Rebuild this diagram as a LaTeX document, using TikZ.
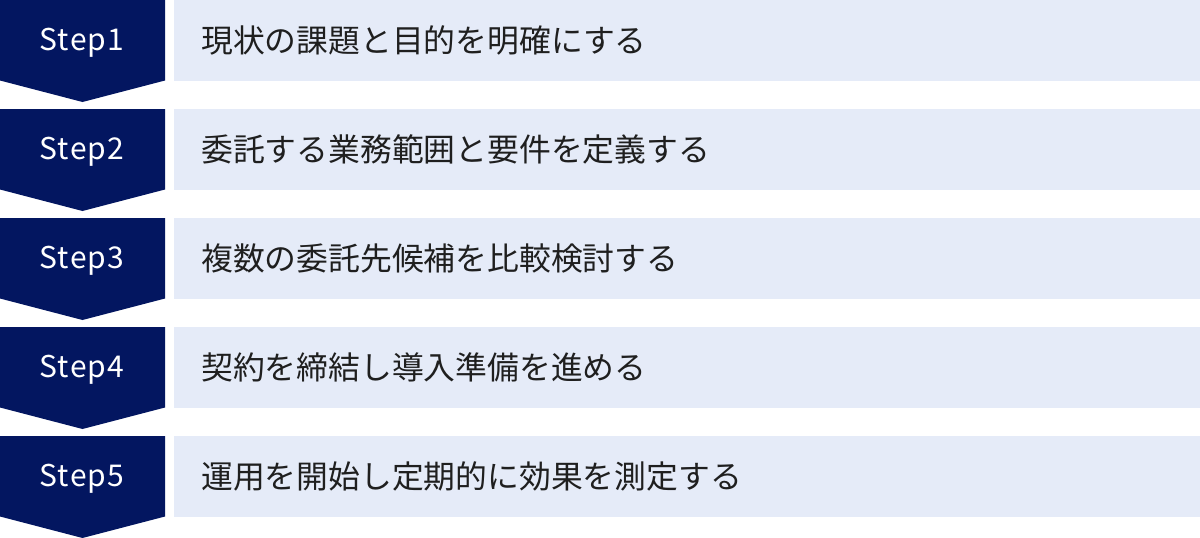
\documentclass[tikz,border=0pt]{standalone}
\usepackage{fontspec}
\setmainfont{Noto Sans}
\newfontfamily\jpfont{Noto Sans CJK JP}
\newfontfamily\stepfont[LetterSpace=4]{Noto Sans CJK JP}
\usetikzlibrary{backgrounds,calc}
\definecolor{navy}{RGB}{3,22,96}
\definecolor{pale}{RGB}{229,235,248}
\begin{document}
\begin{tikzpicture}[x=1pt,y=-1pt,
  stepbox/.style={minimum width=165pt,minimum height=80.5pt,inner sep=0pt,outer sep=0pt},
  steplabel/.style={anchor=base,text=white,inner sep=0pt,font=\stepfont\fontsize{30}{32}\selectfont},
  taskbox/.style={fill=pale,minimum width=1026pt,minimum height=80.5pt,inner sep=0pt,outer sep=0pt,anchor=west},
  tasktext/.style={anchor=base west,inner sep=0pt,text=black!88,font=\jpfont\fontsize{31.8}{34}\selectfont}]
\useasboundingbox (0,0) rectangle (1200,538);
\foreach \i/\t in {1/現状の課題と目的を明確にする,2/委託する業務範囲と要件を定義する,3/複数の委託先候補を比較検討する,4/契約を締結し導入準備を進める,5/運用を開始し定期的に効果を測定する}{
  \pgfmathsetmacro{\yy}{(\i-1)*109}
  \node[stepbox] (s\i) at (82.5,\yy+40.25) {};
  \fill[navy] (s\i.north west) -- (s\i.north east) -- (s\i.south east) -- ($(s\i.south)+(0,21.5)$) -- (s\i.south west) -- cycle;
  \node[steplabel] (l\i) at (82,\yy+50.5) {Step\i};
  \node[taskbox] (b\i) at (174,\yy+40.25) {};
  \node[tasktext] (t\i) at (201,\yy+52) {\t};
}
\end{tikzpicture}
\end{document}
